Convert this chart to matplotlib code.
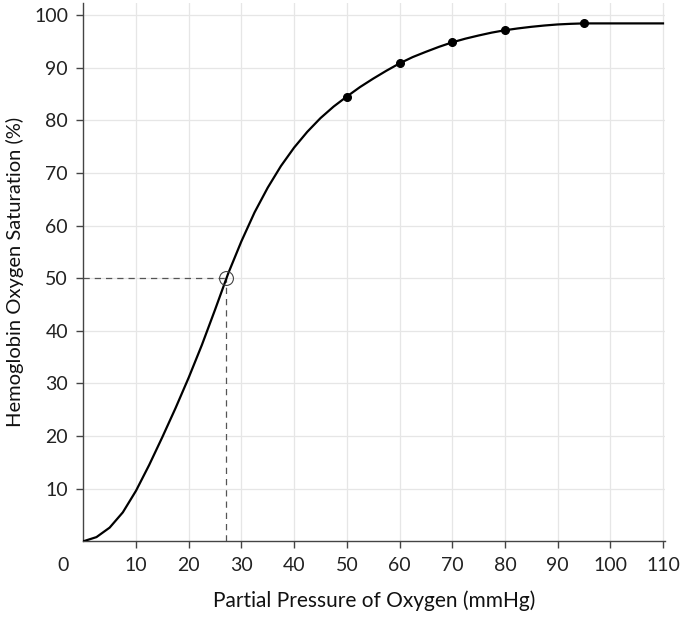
import matplotlib
matplotlib.use('Agg')
import matplotlib.pyplot as plt

# curve (pO2 mmHg -> saturation %)
po2 = [0, 2.5, 5, 7.5, 10, 12.5, 15, 17.5, 20, 22.5, 25, 27.5, 30, 32.5, 35, 37.5,
       40, 42.5, 45, 47.5, 50, 52.5, 55, 57.5, 60, 62.5, 65, 67.5, 70, 72.5, 75, 77.5,
       80, 82.5, 85, 87.5, 90, 92.5, 95, 100, 105, 110]
sat = [0, 0.8, 2.6, 5.5, 9.6, 14.5, 19.8, 25.3, 31.1, 37.3, 44.0, 50.9, 57.0, 62.5, 67.2, 71.3,
       74.8, 77.8, 80.4, 82.6, 84.5, 86.3, 87.9, 89.4, 90.8, 92.0, 93.0, 93.95, 94.8, 95.5, 96.1, 96.65,
       97.1, 97.45, 97.75, 98.0, 98.2, 98.32, 98.4, 98.4, 98.4, 98.4]

# highlighted points
dot_x = [50, 60, 70, 80, 95]
dot_y = [84.5, 90.8, 94.8, 97.1, 98.4]

# P50 marker
p50_x = 27
p50_y = 50

x_ticks = [10, 20, 30, 40, 50, 60, 70, 80, 90, 100, 110]
y_ticks = [10, 20, 30, 40, 50, 60, 70, 80, 90, 100]

plt.rcParams['font.family'] = ['Lato', 'DejaVu Sans']

fig = plt.figure(figsize=(6.85, 6.18), dpi=100)
ax = fig.add_axes([0.1216, 0.1241, 0.8486, 0.8704])

ax.grid(True, color='#e6e6e6', linewidth=0.9)
ax.set_axisbelow(True)

ax.plot(po2, sat, color='black', linewidth=1.6, zorder=3, solid_joinstyle='round')
ax.plot(dot_x, dot_y, 'o', color='black', markersize=5.5, zorder=4)

# dashed guides to the P50 point
ax.plot([0, p50_x], [p50_y, p50_y], color='#555555', linewidth=0.9, dashes=(5, 4), zorder=2)
ax.plot([p50_x, p50_x], [0, p50_y], color='#555555', linewidth=0.9, dashes=(5, 4), zorder=2)
ax.plot([p50_x], [p50_y], 'o', markersize=10, markerfacecolor='none',
        markeredgecolor='#444444', markeredgewidth=0.8, zorder=5)

ax.set_xlim(0, 110.3)
ax.set_ylim(0, 102.2)
ax.set_xticks(x_ticks)
ax.set_yticks(y_ticks)

for s in ['top', 'right']:
    ax.spines[s].set_visible(False)
for s in ['left', 'bottom']:
    ax.spines[s].set_color('#444444')
    ax.spines[s].set_linewidth(1.0)

ax.tick_params(axis='both', colors='#444444', length=5, width=1.0,
               labelsize=14, labelcolor='#222222', pad=6)

# lone "0" at the corner
ax.annotate('0', xy=(0, 0), xycoords='data', xytext=(-20, -16), textcoords='offset pixels',
            ha='center', va='top', fontsize=14, color='#222222')

ax.set_xlabel('Partial Pressure of Oxygen (mmHg)', fontsize=15, color='#111111', labelpad=12)
ax.set_ylabel('Hemoglobin Oxygen Saturation (%)', fontsize=14.5, color='#111111', labelpad=7)

plt.savefig('out.png', dpi=100)
